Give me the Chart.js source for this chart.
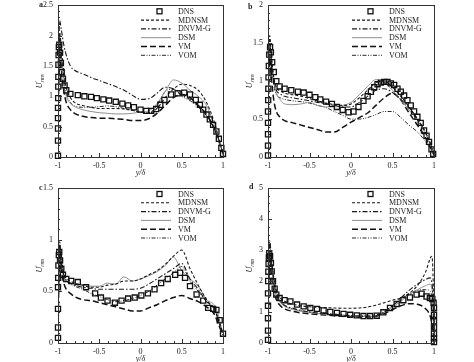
<!DOCTYPE html>
<html>
<head>
<meta charset="utf-8">
<script src="https://cdn.jsdelivr.net/npm/chart.js"></script>
<style>
  body { margin: 0; background: #fff; width: 474px; height: 362px; overflow: hidden; position: relative; }
  canvas { position: absolute; }
</style>
</head>
<body>
<canvas id="pa" width="237" height="181" style="left:0;top:0"></canvas>
<canvas id="pb" width="237" height="181" style="left:237px;top:0"></canvas>
<canvas id="pc" width="237" height="181" style="left:0;top:181px"></canvas>
<canvas id="pd" width="237" height="181" style="left:237px;top:181px"></canvas>
<script>
// model names, in legend order after DNS
const modelNames = ['MDNSM', 'DNVM-G', 'DSM', 'VM', 'VOM'];

// y/delta positions shared by the model curves
const xLine = [-1, -0.99, -0.98, -0.96, -0.93, -0.9, -0.85, -0.8, -0.7, -0.6, -0.5, -0.4, -0.3, -0.2, -0.1,
  0, 0.1, 0.2, 0.3, 0.4, 0.5, 0.6, 0.7, 0.8, 0.9, 0.95, 0.97, 0.99, 1];

// panel a
const aMDNSM = [0, 1.6, 2.05, 1.8, 1.4, 1.15, 0.98, 0.9, 0.85, 0.82, 0.8, 0.8, 0.8, 0.79, 0.77, 0.74, 0.72, 0.8, 0.98, 1.12, 1.2, 1.18, 1.1, 0.9, 0.55, 0.3, 0.2, 0.1, 0.05];
const aDNVMG = [0, 1.7, 2.25, 2.1, 1.85, 1.68, 1.5, 1.43, 1.37, 1.31, 1.26, 1.21, 1.16, 1.1, 1.02, 0.95, 0.96, 1.05, 1.15, 1.12, 1.02, 0.95, 0.85, 0.7, 0.45, 0.28, 0.2, 0.1, 0.05];
const aDSM = [0, 1.5, 1.9, 1.6, 1.2, 1.0, 0.88, 0.83, 0.78, 0.75, 0.73, 0.72, 0.71, 0.71, 0.72, 0.74, 0.76, 0.88, 1.08, 1.27, 1.22, 1.1, 1.0, 0.85, 0.5, 0.28, 0.2, 0.1, 0.05];
const aVM = [0, 1.4, 1.75, 1.45, 1.1, 0.9, 0.78, 0.72, 0.67, 0.65, 0.64, 0.64, 0.63, 0.62, 0.6, 0.6, 0.63, 0.72, 0.85, 0.98, 1.03, 0.98, 0.85, 0.7, 0.45, 0.26, 0.18, 0.09, 0.04];
const aVOM = [0, 1.55, 2.0, 1.7, 1.3, 1.05, 0.9, 0.84, 0.82, 0.82, 0.83, 0.84, 0.83, 0.8, 0.77, 0.74, 0.73, 0.85, 1.08, 1.12, 1.0, 0.93, 0.82, 0.68, 0.45, 0.27, 0.19, 0.09, 0.05];
const aDnsX = [-1, -1, -1, -1, -1, -0.998, -0.997, -0.996, -0.995, -0.993, -0.99, -0.985, -0.975, -0.965, -0.955, -0.94, -0.92, -0.9, -0.85,
  -0.76, -0.68, -0.6, -0.53, -0.45, -0.38, -0.3, -0.22, -0.15, -0.08, 0, 0.07, 0.13, 0.19, 0.24, 0.29, 0.37, 0.45, 0.53, 0.6,
  0.67, 0.72, 0.76, 0.8, 0.84, 0.88, 0.92, 0.95, 0.98, 1.0];
const aDnsY = [0.02, 0.27, 0.47, 0.64, 0.81, 0.97, 1.16, 1.32, 1.52, 1.68, 1.81, 1.85, 1.72, 1.55, 1.4, 1.29, 1.18, 1.1, 1.04,
  1.02, 1.0, 0.99, 0.97, 0.95, 0.93, 0.91, 0.88, 0.85, 0.82, 0.78, 0.76, 0.76, 0.79, 0.86, 0.94, 1.03, 1.05, 1.06, 1.03,
  0.94, 0.86, 0.78, 0.7, 0.62, 0.53, 0.42, 0.3, 0.15, 0.05];

// panel b
const bMDNSM = [0, 1.3, 1.6, 1.35, 1.05, 0.92, 0.87, 0.84, 0.82, 0.8, 0.77, 0.74, 0.71, 0.69, 0.68, 0.7, 0.78, 0.88, 0.98, 1.0, 0.92, 0.8, 0.66, 0.5, 0.32, 0.19, 0.13, 0.06, 0.03];
const bDNVMG = [0, 1.25, 1.55, 1.3, 1.0, 0.88, 0.83, 0.8, 0.78, 0.76, 0.74, 0.72, 0.7, 0.68, 0.66, 0.66, 0.72, 0.8, 0.88, 0.9, 0.85, 0.76, 0.65, 0.5, 0.32, 0.2, 0.14, 0.07, 0.03];
const bDSM = [0, 1.2, 1.5, 1.3, 1.0, 0.85, 0.75, 0.7, 0.69, 0.7, 0.72, 0.68, 0.66, 0.66, 0.68, 0.72, 0.82, 0.93, 1.02, 0.98, 0.88, 0.75, 0.62, 0.48, 0.3, 0.18, 0.12, 0.06, 0.03];
const bVM = [0, 1.0, 1.3, 1.05, 0.75, 0.6, 0.52, 0.48, 0.45, 0.42, 0.39, 0.36, 0.33, 0.33, 0.39, 0.46, 0.52, 0.58, 0.68, 0.78, 0.84, 0.75, 0.58, 0.42, 0.25, 0.14, 0.1, 0.05, 0.02];
const bVOM = [0, 1.2, 1.5, 1.25, 0.95, 0.82, 0.78, 0.76, 0.74, 0.73, 0.71, 0.68, 0.65, 0.6, 0.55, 0.5, 0.5, 0.52, 0.56, 0.6, 0.6, 0.52, 0.42, 0.33, 0.2, 0.12, 0.08, 0.04, 0.02];
const bDnsX = [-1, -1, -1, -1, -1, -0.998, -0.996, -0.994, -0.99, -0.985, -0.975, -0.965, -0.95, -0.93, -0.9, -0.86, -0.8, -0.72,
  -0.64, -0.57, -0.5, -0.43, -0.37, -0.3, -0.23, -0.17, -0.1, -0.03, 0.03, 0.09, 0.15, 0.2, 0.24, 0.28, 0.32, 0.36, 0.4, 0.44,
  0.48, 0.52, 0.56, 0.6, 0.64, 0.68, 0.72, 0.76, 0.8, 0.84, 0.88, 0.91, 0.94, 0.97, 0.99];
const bDnsY = [0.02, 0.15, 0.3, 0.45, 0.6, 0.75, 0.9, 1.05, 1.2, 1.35, 1.45, 1.38, 1.25, 1.12, 1.0, 0.93, 0.9, 0.88,
  0.86, 0.85, 0.82, 0.79, 0.76, 0.73, 0.7, 0.66, 0.62, 0.59, 0.6, 0.66, 0.74, 0.8, 0.86, 0.92, 0.96, 0.98, 0.99, 0.99,
  0.97, 0.95, 0.9, 0.86, 0.81, 0.75, 0.68, 0.6, 0.53, 0.45, 0.35, 0.28, 0.2, 0.1, 0.04];

// panel c
const cMDNSM = [0, 0.7, 0.98, 0.82, 0.68, 0.63, 0.6, 0.58, 0.56, 0.54, 0.54, 0.56, 0.57, 0.6, 0.6, 0.62, 0.66, 0.7, 0.76, 0.84, 0.9, 0.72, 0.56, 0.42, 0.32, 0.22, 0.17, 0.12, 0.1];
const cDNVMG = [0, 0.68, 0.95, 0.8, 0.66, 0.61, 0.58, 0.56, 0.54, 0.53, 0.52, 0.52, 0.52, 0.52, 0.52, 0.53, 0.57, 0.62, 0.67, 0.72, 0.77, 0.62, 0.52, 0.4, 0.33, 0.2, 0.15, 0.1, 0.08];
const cDSM = [0, 0.66, 0.93, 0.78, 0.65, 0.6, 0.58, 0.57, 0.56, 0.55, 0.55, 0.58, 0.57, 0.64, 0.6, 0.62, 0.65, 0.69, 0.75, 0.83, 0.7, 0.62, 0.55, 0.42, 0.36, 0.25, 0.18, 0.12, 0.1];
const cVM = [0, 0.6, 0.85, 0.7, 0.58, 0.52, 0.48, 0.45, 0.42, 0.41, 0.39, 0.37, 0.35, 0.33, 0.31, 0.31, 0.34, 0.37, 0.41, 0.44, 0.46, 0.43, 0.4, 0.35, 0.27, 0.17, 0.13, 0.09, 0.08];
const cVOM = [0, 0.65, 0.9, 0.76, 0.64, 0.6, 0.57, 0.55, 0.52, 0.48, 0.45, 0.42, 0.4, 0.41, 0.43, 0.46, 0.5, 0.56, 0.62, 0.68, 0.74, 0.6, 0.5, 0.4, 0.32, 0.2, 0.15, 0.1, 0.08];
const cDnsX = [-1, -1, -1, -1, -0.998, -0.995, -0.99, -0.985, -0.975, -0.96, -0.94, -0.9, -0.84, -0.76, -0.66, -0.55, -0.48, -0.4,
  -0.31, -0.23, -0.15, -0.07, 0.01, 0.09, 0.17, 0.25, 0.33, 0.42, 0.48, 0.54, 0.6, 0.68, 0.76, 0.82, 0.88, 0.92, 0.96, 1.0];
const cDnsY = [0.05, 0.15, 0.33, 0.54, 0.63, 0.75, 0.85, 0.88, 0.8, 0.72, 0.66, 0.62, 0.6, 0.59, 0.54, 0.48, 0.44, 0.41,
  0.39, 0.41, 0.43, 0.44, 0.46, 0.48, 0.52, 0.58, 0.62, 0.66, 0.68, 0.63, 0.55, 0.47, 0.41, 0.34, 0.33, 0.32, 0.22, 0.09];

// panel d
const dMDNSM = [0, 2.5, 3.2, 2.7, 2.1, 1.7, 1.45, 1.35, 1.25, 1.2, 1.17, 1.15, 1.14, 1.13, 1.12, 1.12, 1.13, 1.16, 1.22, 1.3, 1.38, 1.45, 1.6, 1.85, 2.3, 2.7, 2.8, 2.0, 0];
const dDNVMG = [0, 2.4, 3.3, 2.8, 2.0, 1.6, 1.35, 1.22, 1.12, 1.05, 1.0, 0.97, 0.95, 0.93, 0.9, 0.88, 0.87, 0.86, 0.88, 1.0, 1.2, 1.45, 1.7, 1.9, 2.05, 2.1, 2.0, 1.3, 0];
const dDSM = [0, 2.2, 3.0, 2.5, 1.85, 1.5, 1.3, 1.18, 1.08, 1.02, 0.98, 0.95, 0.93, 0.91, 0.89, 0.87, 0.86, 0.86, 0.88, 0.98, 1.15, 1.35, 1.55, 1.72, 1.85, 1.9, 1.8, 1.2, 0];
const dVM = [0, 2.0, 2.8, 2.3, 1.7, 1.4, 1.2, 1.1, 1.02, 0.97, 0.94, 0.92, 0.9, 0.88, 0.86, 0.85, 0.84, 0.84, 0.86, 0.95, 1.08, 1.2, 1.27, 1.25, 1.1, 0.9, 0.7, 0.35, 0];
const dVOM = [0, 2.3, 3.1, 2.6, 1.9, 1.55, 1.33, 1.2, 1.1, 1.04, 1.0, 0.96, 0.94, 0.92, 0.9, 0.88, 0.87, 0.87, 0.9, 1.02, 1.2, 1.4, 1.58, 1.7, 1.72, 1.68, 1.55, 1.0, 0];
const dDnsX = [-1, -1, -1, -1, -1, -0.998, -0.996, -0.993, -0.99, -0.985, -0.975, -0.965, -0.955, -0.94, -0.92, -0.9, -0.86, -0.8,
  -0.73, -0.65, -0.57, -0.49, -0.41, -0.33, -0.25, -0.17, -0.09, -0.01, 0.07, 0.15, 0.23, 0.31, 0.39, 0.47, 0.55, 0.63, 0.71,
  0.79, 0.85, 0.91, 0.95, 0.98, 0.995, 1, 1, 1, 1, 1, 1, 1];
const dDnsY = [0.1, 0.4, 0.8, 1.2, 1.6, 2.0, 2.3, 2.55, 2.75, 2.9, 2.8, 2.58, 2.31, 1.99, 1.75, 1.56, 1.45, 1.38,
  1.34, 1.24, 1.18, 1.13, 1.1, 1.05, 1.0, 0.97, 0.94, 0.91, 0.89, 0.87, 0.87, 0.88, 0.99, 1.13, 1.26, 1.38, 1.47,
  1.56, 1.59, 1.5, 1.45, 1.42, 1.3, 1.13, 0.91, 0.7, 0.5, 0.3, 0.15, 0.03];

// axis ticks: [max, minor step, labelled step]
const yAxisA = [2.5, 0.1, 0.5];
const yAxisB = [2, 0.1, 0.5];
const yAxisC = [1.5, 0.1, 0.5];
const yAxisD = [5, 0.25, 1];

const lineStyle = {
  'MDNSM':  { dash: [3, 2], width: 1.1, color: '#1a1a1a' },
  'DNVM-G': { dash: [5, 2, 1.5, 2], width: 1.1, color: '#1a1a1a' },
  'DSM':    { dash: [], width: 1, color: '#8f8f8f' },
  'VM':     { dash: [6, 3], width: 1.5, color: '#111' },
  'VOM':    { dash: [4, 1.5, 1, 1.5, 1, 1.5], width: 1, color: '#2a2a2a' }
};

const serif = "'Liberation Serif', 'DejaVu Serif', serif";

const decor = {
  id: 'decor',
  afterDraw(chart) {
    const o = chart.options.plugins.decor;
    const ctx = chart.ctx;
    const a = chart.chartArea;
    const sx = chart.scales.x, sy = chart.scales.y;
    ctx.save();
    ctx.strokeStyle = '#333';
    ctx.lineWidth = 1;
    ctx.setLineDash([]);
    ctx.strokeRect(Math.round(a.left) + 0.5, Math.round(a.top) + 0.5, Math.round(a.right - a.left), Math.round(a.bottom - a.top));
    ctx.beginPath();
    sx.ticks.forEach(t => {
      const p = Math.round(sx.getPixelForValue(t.value)) + 0.5;
      const len = t.label !== '' ? 4 : 2;
      ctx.moveTo(p, a.bottom); ctx.lineTo(p, a.bottom - len);
    });
    sy.ticks.forEach(t => {
      const p = Math.round(sy.getPixelForValue(t.value)) + 0.5;
      const len = t.label !== '' ? 4 : 2;
      ctx.moveTo(a.left, p); ctx.lineTo(a.left + len, p);
    });
    ctx.stroke();

    ctx.fillStyle = '#222';
    // x title
    ctx.font = 'italic 8px ' + serif;
    ctx.textAlign = 'center';
    ctx.textBaseline = 'middle';
    ctx.fillText('y/\u03b4', (a.left + a.right) / 2, a.bottom + 16);
    // y title U'_rms, rotated
    ctx.save();
    ctx.translate(a.left - 18, (a.top + a.bottom) / 2);
    ctx.rotate(-Math.PI / 2);
    ctx.textAlign = 'left';
    ctx.font = 'italic 8px ' + serif;
    const wU = ctx.measureText('U').width;
    ctx.font = 'italic 5.5px ' + serif;
    const wS = ctx.measureText('rms').width;
    const x0 = -(wU + wS) / 2;
    ctx.font = 'italic 8px ' + serif;
    ctx.fillText('U', x0, 0);
    ctx.font = '6px ' + serif;
    ctx.fillText('\u2032', x0 + wU, -3);
    ctx.font = 'italic 5.5px ' + serif;
    ctx.fillText('rms', x0 + wU, 2.5);
    ctx.restore();
    // panel letter
    ctx.font = 'bold 8px ' + serif;
    ctx.textAlign = 'left';
    ctx.fillText(o.letter, o.letterX, o.letterY);

    // legend
    ctx.font = '8px ' + serif;
    const s0 = a.right - 82, s1 = a.right - 52, tx = a.right - 45;
    chart.data.datasets.forEach((ds, i) => {
      const yy = a.top + 6 + i * 8.8;
      if (ds.showLine) {
        ctx.strokeStyle = ds.borderColor;
        ctx.lineWidth = ds.borderWidth;
        ctx.setLineDash(ds.borderDash);
        ctx.beginPath();
        ctx.moveTo(s0, yy); ctx.lineTo(s1, yy);
        ctx.stroke();
      } else {
        ctx.setLineDash([]);
        ctx.strokeStyle = '#111';
        ctx.lineWidth = 1.3;
        ctx.strokeRect(a.right - 66, yy - 2.5, 5, 5);
      }
      ctx.fillStyle = '#222';
      ctx.fillText(ds.label, tx, yy + 0.5);
    });
    ctx.restore();
  }
};

function tickLabel(step) {
  return function (v) {
    const r = Math.round(v / step);
    if (Math.abs(v - r * step) > 1e-6) return '';
    return String(+(r * step).toFixed(2));
  };
}

function makePanel(id, letter, letterX, letterY, yAxis, dnsX, dnsY, models, yWidth, pad) {
  const datasets = [{
    label: 'DNS',
    data: dnsX.map((x, i) => ({ x: x, y: dnsY[i] })),
    showLine: false,
    pointStyle: 'rect',
    pointRadius: 3.6,
    pointBorderWidth: 1.3,
    pointBorderColor: '#111',
    pointBackgroundColor: 'rgba(255,255,255,0)',
    clip: false,
    order: 0
  }];
  modelNames.forEach((name, k) => {
    const st = lineStyle[name];
    datasets.push({
      label: name,
      data: xLine.map((x, i) => ({ x: x, y: models[k][i] })),
      showLine: true,
      pointRadius: 0,
      borderColor: st.color,
      borderWidth: st.width,
      borderDash: st.dash,
      cubicInterpolationMode: 'monotone',
      order: 1
    });
  });
  new Chart(document.getElementById(id), {
    type: 'scatter',
    data: { datasets: datasets },
    options: {
      responsive: false,
      animation: false,
      devicePixelRatio: 1,
      layout: { padding: pad },
      plugins: {
        legend: { display: false },
        tooltip: { enabled: false },
        decor: { letter: letter, letterX: letterX, letterY: letterY }
      },
      scales: {
        x: {
          type: 'linear', min: -1, max: 1,
          grid: { display: false, drawTicks: false },
          border: { display: false },
          ticks: {
            stepSize: 0.1, autoSkip: false, maxRotation: 0, padding: 4,
            color: '#222', font: { family: serif, size: 8 },
            callback: tickLabel(0.5)
          },
          afterFit: s => { s.height = 18; s.paddingLeft = 0; s.paddingRight = 0; }
        },
        y: {
          type: 'linear', min: 0, max: yAxis[0],
          grid: { display: false, drawTicks: false },
          border: { display: false },
          ticks: {
            stepSize: yAxis[1], autoSkip: false, padding: 5,
            color: '#222', font: { family: serif, size: 8 },
            callback: tickLabel(yAxis[2])
          },
          afterFit: s => { s.width = yWidth; s.paddingTop = 0; s.paddingBottom = 0; }
        }
      }
    },
    plugins: [decor]
  });
}

makePanel('pa', 'a', 39, 5, yAxisA, aDnsX, aDnsY, [aMDNSM, aDNVMG, aDSM, aVM, aVOM], 58, { left: 0, right: 14, top: 2, bottom: 6 });
makePanel('pb', 'b', 11, 7, yAxisB, bDnsX, bDnsY, [bMDNSM, bDNVMG, bDSM, bVM, bVOM], 31, { left: 0, right: 40, top: 3, bottom: 6 });
makePanel('pc', 'c', 39, 7, yAxisC, cDnsX, cDnsY, [cMDNSM, cDNVMG, cDSM, cVM, cVOM], 58, { left: 0, right: 14, top: 7, bottom: 1 });
makePanel('pd', 'd', 12, 6, yAxisD, dDnsX, dDnsY, [dMDNSM, dDNVMG, dDSM, dVM, dVOM], 31, { left: 0, right: 40, top: 7, bottom: 1 });
</script>
</body>
</html>
